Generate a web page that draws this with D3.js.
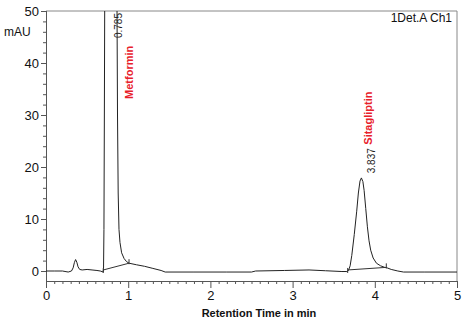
<!DOCTYPE html>
<html>
<head>
<meta charset="utf-8">
<script src="https://cdn.jsdelivr.net/npm/d3@7"></script>
<style>
  html, body { margin: 0; padding: 0; background: #fff; }
  svg { display: block; font-family: "Liberation Sans", Arial, sans-serif; }
</style>
</head>
<body>
<svg id="chart" width="474" height="326"></svg>
<script>
// Chromatogram trace: retention time (min) and detector response (mAU)
const times = [
  0.00, 0.10, 0.20, 0.27, 0.31, 0.33, 0.345, 0.36, 0.375, 0.39, 0.41, 0.44, 0.50, 0.56, 0.62, 0.66, 0.695,
  0.700, 0.705, 0.710, 0.716, 0.730, 0.785, 0.840, 0.864, 0.870, 0.878, 0.888, 0.900, 0.920, 0.950, 0.980, 1.010,
  1.10, 1.20, 1.30, 1.40, 1.45, 1.80, 2.20, 2.50, 2.55, 2.90, 3.20, 3.40, 3.60, 3.66,
  3.68, 3.70, 3.72, 3.75, 3.78, 3.80, 3.82, 3.837, 3.855, 3.87, 3.89, 3.91, 3.93, 3.95, 3.98, 4.02, 4.07, 4.12, 4.15,
  4.20, 4.28, 4.35, 4.60, 5.00
];
const mAU = [
  0.0, 0.0, 0.0, -0.2, 0.0, 0.6, 1.6, 2.2, 1.7, 0.8, 0.3, 0.2, 0.3, 0.2, 0.1, 0.0, -0.2,
  0.5, 8, 30, 60, 200, 900, 200, 50, 30, 15, 8, 5.5, 3.5, 2.4, 1.8, 1.5,
  1.2, 0.9, 0.5, 0.1, -0.2, -0.2, -0.2, -0.2, 0.0, 0.1, 0.2, 0.05, -0.1, -0.1,
  0.1, 1.0, 3.0, 7.0, 11.5, 15.0, 17.3, 17.9, 17.2, 15.5, 12.0, 8.5, 5.8, 4.0, 2.5, 1.5, 1.0, 0.7, 0.6,
  0.3, 0.0, -0.2, -0.2, -0.2
];

// Integrated peaks: start/end of the drawn baseline, apex time and name
const peakStart = [[0.697, 0.2], [3.67, 0.2]];
const peakEnd = [[1.01, 1.5], [4.14, 0.7]];
const peakTimes = ["0.785", "3.837"];
const peakNames = ["Metformin", "Sitagliptin"];
const peakLabelY = [44.8, 18.8];   // mAU level where the retention-time label starts
const peakNameY = [38.2, 29.4];    // mAU level at the centre of the compound name

const xTicks = [0, 1, 2, 3, 4, 5];
const yTicks = [0, 10, 20, 30, 40, 50];

const svg = d3.select("#chart");
const margin = { left: 46, right: 17, top: 11, bottom: 45 };
const W = 474, H = 326;
const x = d3.scaleLinear().domain([0, 5]).range([margin.left, W - margin.right]);
const y = d3.scaleLinear().domain([0, 50]).range([271, margin.top]);
const axisY = 281;

const axisColor = "#555";

// Plot frame (top and right edges)
svg.append("path")
  .attr("d", `M${x(0)},${y(50)}H${x(5)}V${axisY}`)
  .attr("fill", "none").attr("stroke", "#888").attr("stroke-width", 1);

// Clip region for the trace
svg.append("clipPath").attr("id", "plotClip")
  .append("rect").attr("x", x(0)).attr("y", y(50))
  .attr("width", x(5) - x(0)).attr("height", axisY - y(50));

// X axis
const xAxis = svg.append("g").attr("transform", `translate(0,${axisY})`);
xAxis.call(d3.axisBottom(x).tickValues(d3.range(0, 51).map(d => d / 10)).tickSize(3).tickFormat(""));
xAxis.call(g => g.selectAll(".tick").filter(d => Math.abs(d - Math.round(d)) < 1e-6).remove());
const xMajor = svg.append("g").attr("transform", `translate(0,${axisY})`)
  .call(d3.axisBottom(x).tickValues(xTicks).tickSize(7).tickPadding(3).tickFormat(d3.format("d")));
[xAxis, xMajor].forEach(g => {
  g.selectAll("path, line").attr("stroke", axisColor);
  g.select(".domain").attr("d", `M${x(0)},0.5H${x(5)}`);
});
xMajor.selectAll("text").attr("font-size", 13).attr("fill", "#111")
  .attr("font-family", "Liberation Sans, Arial, sans-serif");

// Y axis
const yAxis = svg.append("g").attr("transform", `translate(${x(0)},0)`);
yAxis.call(d3.axisLeft(y).tickValues(d3.range(0, 51, 2).filter(d => d % 10 !== 0)).tickSize(3).tickFormat(""));
const yMajor = svg.append("g").attr("transform", `translate(${x(0)},0)`)
  .call(d3.axisLeft(y).tickValues(yTicks).tickSize(5).tickPadding(2).tickFormat(d3.format("d")));
[yAxis, yMajor].forEach(g => {
  g.selectAll("path, line").attr("stroke", axisColor);
  g.select(".domain").attr("d", `M0.5,${y(50)}V${axisY + 7}`);
});
yMajor.selectAll("text").attr("font-size", 13).attr("fill", "#111")
  .attr("font-family", "Liberation Sans, Arial, sans-serif");

// Axis titles
svg.append("text").attr("x", 4).attr("y", 36).attr("font-size", 12).attr("fill", "#111").text("mAU");
svg.append("text").attr("x", 259).attr("y", 317).attr("text-anchor", "middle")
  .attr("font-size", 11).attr("font-weight", "bold").attr("fill", "#111").text("Retention Time in min");
svg.append("text").attr("x", 452).attr("y", 22).attr("text-anchor", "end")
  .attr("font-size", 12).attr("fill", "#111").text("1Det.A Ch1");

// Trace
const trace = times.map((t, i) => [t, mAU[i]]);
const plot = svg.append("g").attr("clip-path", "url(#plotClip)");
plot.append("path")
  .datum(trace)
  .attr("d", d3.line().x(d => x(d[0])).y(d => y(d[1])))
  .attr("fill", "none").attr("stroke", "#222").attr("stroke-width", 1);

// Integration baselines and markers
peakStart.forEach((s, i) => {
  const e = peakEnd[i];
  plot.append("line")
    .attr("x1", x(s[0])).attr("y1", y(s[1])).attr("x2", x(e[0])).attr("y2", y(e[1]))
    .attr("stroke", "#333").attr("stroke-width", 1);
  plot.append("line")
    .attr("x1", x(s[0])).attr("y1", y(s[1]) - 2).attr("x2", x(s[0])).attr("y2", y(s[1]) + 3)
    .attr("stroke", "#333");
  plot.append("line")
    .attr("x1", x(e[0])).attr("y1", y(e[1]) - 4).attr("x2", x(e[0])).attr("y2", y(e[1]) + 1)
    .attr("stroke", "#333");
});

// Peak labels (rotated): retention time and compound name
const labelDx = [11.5, 13.6];
const nameDx = [22.5, 10.6];
peakTimes.forEach((lbl, i) => {
  const t = parseFloat(lbl);
  svg.append("text")
    .attr("transform", `translate(${x(t) + labelDx[i]},${y(peakLabelY[i])}) rotate(-90)`)
    .attr("font-size", 10).attr("fill", "#222").text(lbl);
  svg.append("text")
    .attr("transform", `translate(${x(t) + nameDx[i]},${y(peakNameY[i])}) rotate(-90)`)
    .attr("text-anchor", "middle")
    .attr("font-size", 11).attr("font-weight", "bold").attr("fill", "#e8202a").text(peakNames[i]);
});
</script>
</body>
</html>
